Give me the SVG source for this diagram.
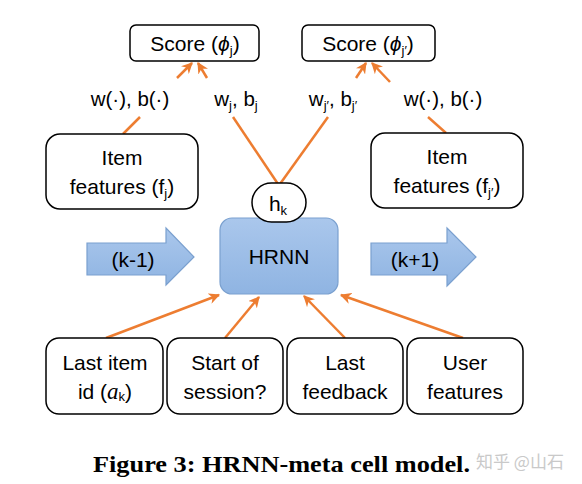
<svg xmlns="http://www.w3.org/2000/svg" width="582" height="484" viewBox="0 0 582 484">
<style>
.box{fill:#fff;stroke:#000;stroke-width:1.5}
.t{font-family:"Liberation Sans",Arial,sans-serif;font-size:21px;fill:#000;text-anchor:middle}
.lbl{font-family:"Liberation Sans",Arial,sans-serif;font-size:20.5px;fill:#000;text-anchor:middle}
.edge{stroke:#ed7d31;stroke-width:2.5;fill:none}
.blue{fill:url(#bg);stroke:#7aa0cf;stroke-width:1.2}
</style>
<defs>
<linearGradient id="bg" x1="0" y1="0" x2="0" y2="1">
<stop offset="0" stop-color="#aac7ec"/>
<stop offset="1" stop-color="#8fb4e2"/>
</linearGradient>
<marker id="ah" viewBox="0 0 10 10" refX="9" refY="5" markerWidth="4.5" markerHeight="4.5" orient="auto" markerUnits="strokeWidth">
<path d="M0,0 L10,5 L0,10 L3,5 Z" fill="#ed7d31"/>
</marker>
</defs>
<rect width="582" height="484" fill="#fff"/>

<g id="connectors">
<line class="edge" x1="123" y1="134" x2="140" y2="117"/>
<line class="edge" x1="177" y1="78" x2="192" y2="63" marker-end="url(#ah)"/>
<line class="edge" x1="278" y1="184" x2="233" y2="117"/>
<line class="edge" x1="207" y1="78" x2="198" y2="63" marker-end="url(#ah)"/>
<line class="edge" x1="280" y1="184" x2="328" y2="117"/>
<line class="edge" x1="356" y1="78" x2="366" y2="63" marker-end="url(#ah)"/>
<line class="edge" x1="446" y1="133" x2="428" y2="117"/>
<line class="edge" x1="390" y1="82" x2="372" y2="63" marker-end="url(#ah)"/>
<line class="edge" x1="106" y1="338" x2="219" y2="295" marker-end="url(#ah)"/>
<line class="edge" x1="225" y1="338" x2="259" y2="297" marker-end="url(#ah)"/>
<line class="edge" x1="345" y1="338" x2="304" y2="296" marker-end="url(#ah)"/>
<line class="edge" x1="463" y1="338" x2="341" y2="295" marker-end="url(#ah)"/>
</g>

<g id="labels">
<text class="lbl" x="130" y="106">w(·), b(·)</text>
<text class="lbl" x="236" y="106">w<tspan font-size="13" dy="4">j</tspan><tspan dy="-4">, b</tspan><tspan font-size="13" dy="4">j</tspan></text>
<text class="lbl" x="333" y="106">w<tspan font-size="13" dy="4">j′</tspan><tspan dy="-4">, b</tspan><tspan font-size="13" dy="4">j′</tspan></text>
<text class="lbl" x="443" y="106">w(·), b(·)</text>
</g>

<g id="score-j">
<rect class="box" x="130" y="25" width="129" height="36" rx="6"/>
<text class="t" x="195" y="51">Score (<tspan font-style="italic">ϕ</tspan><tspan font-size="13" dy="4">j</tspan><tspan dy="-4">)</tspan></text>
</g>
<g id="score-j2">
<rect class="box" x="302" y="25" width="133" height="36" rx="6"/>
<text class="t" x="368" y="51">Score (<tspan font-style="italic">ϕ</tspan><tspan font-size="13" dy="4">j′</tspan><tspan dy="-4">)</tspan></text>
</g>

<g id="item-features-j">
<rect class="box" x="46" y="134" width="152" height="75" rx="14"/>
<text class="t" x="122" y="165">Item</text>
<text class="t" x="122" y="194">features (f<tspan font-size="13" dy="4">j</tspan><tspan dy="-4">)</tspan></text>
</g>
<g id="item-features-j2">
<rect class="box" x="371" y="133" width="152" height="75" rx="14"/>
<text class="t" x="447" y="164">Item</text>
<text class="t" x="447" y="193">features (f<tspan font-size="13" dy="4">j′</tspan><tspan dy="-4">)</tspan></text>
</g>

<g id="prev-arrow">
<path class="blue" d="M87,243 H166 V228 L194,257 L166,285 V275 H87 Z"/>
<text class="t" x="133" y="267">(k-1)</text>
</g>
<g id="next-arrow">
<path class="blue" d="M371,243 H447 V228 L476,257 L447,286 V275 H371 Z"/>
<text class="t" x="415" y="267">(k+1)</text>
</g>

<g id="hrnn">
<rect class="blue" x="220" y="218" width="118" height="76" rx="12"/>
<text class="t" x="279" y="264">HRNN</text>
</g>

<g id="hk">
<rect class="box" x="252" y="183" width="54" height="39" rx="19.5"/>
<text class="t" x="278" y="211">h<tspan font-size="13" dy="4">k</tspan></text>
</g>

<g id="last-item">
<rect class="box" x="46" y="338" width="117" height="76" rx="13"/>
<text class="t" x="105" y="370">Last item</text>
<text class="t" x="105" y="399">id (<tspan font-family="'Liberation Serif',serif" font-style="italic" font-size="23">a</tspan><tspan font-size="13" dy="2">k</tspan><tspan dy="-2">)</tspan></text>
</g>
<g id="start-session">
<rect class="box" x="167" y="338" width="116" height="76" rx="13"/>
<text class="t" x="225" y="370">Start of</text>
<text class="t" x="225" y="399">session?</text>
</g>
<g id="last-feedback">
<rect class="box" x="287" y="338" width="116" height="76" rx="13"/>
<text class="t" x="345" y="370">Last</text>
<text class="t" x="345" y="399">feedback</text>
</g>
<g id="user-features">
<rect class="box" x="407" y="338" width="116" height="76" rx="13"/>
<text class="t" x="465" y="370">User</text>
<text class="t" x="465" y="399">features</text>
</g>

<text x="93" y="472" font-family="'Liberation Serif',serif" font-weight="bold" font-size="23" textLength="377" lengthAdjust="spacingAndGlyphs">Figure 3: HRNN-meta cell model.</text>
<text x="476" y="468" font-family="'Noto Sans CJK SC',sans-serif" font-size="17" fill="#c9c9c9">知乎 @山石</text>
</svg>
